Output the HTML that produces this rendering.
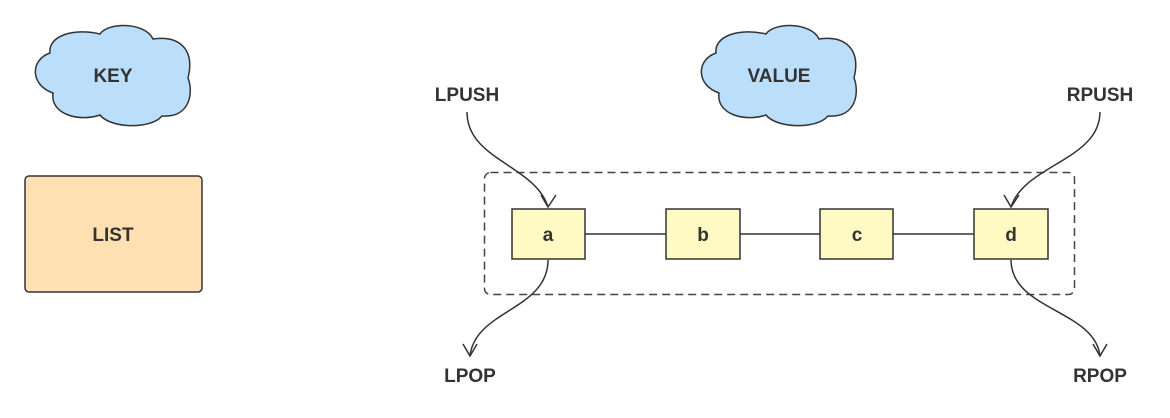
<!DOCTYPE html>
<html><head><style>body{margin:0;background:#fff}</style></head><body>
<svg width="1170" height="413" viewBox="0 0 1170 413" xmlns="http://www.w3.org/2000/svg" font-family="Liberation Sans, sans-serif" font-weight="bold" fill="#333">
<g stroke="#333" stroke-width="1.5">
<path id="cl" d="M50,53 C48,35 75,28 100,34 C108,22 145,22 153,39 C180,35 195,50 188,78 C193,90 192,118 162,116 C150,130 110,128 100,115 C80,122 50,115 53,93 C30,85 30,60 50,53 Z" fill="#bbdefb"/>
<path transform="translate(666,0)" d="M50,53 C48,35 75,28 100,34 C108,22 145,22 153,39 C180,35 195,50 188,78 C193,90 192,118 162,116 C150,130 110,128 100,115 C80,122 50,115 53,93 C30,85 30,60 50,53 Z" fill="#bbdefb"/>
<rect x="25" y="176" width="177" height="116" rx="4" fill="#ffe0b2"/>
<rect x="484.5" y="172.5" width="590" height="122" rx="6" fill="none" stroke="#444" stroke-dasharray="8,5"/>
<line x1="585" y1="234" x2="974" y2="234"/>
<rect x="512" y="209" width="73" height="50" fill="#fff9c4"/>
<rect x="666" y="209" width="74" height="50" fill="#fff9c4"/>
<rect x="820" y="209" width="73" height="50" fill="#fff9c4"/>
<rect x="974" y="209" width="74" height="50" fill="#fff9c4"/>
<g fill="none">
<path d="M467,112 C467,160 535,165 548,207"/><path d="M541,195 L548,207 L556,195"/>
<path d="M1100,112 C1100,160 1024,165 1011,207"/><path d="M1004,195 L1011,207 L1019,195"/>
<path d="M548,260 C548,310 475,310 470,356"/><path d="M463,344 L470,356 L477,344"/>
<path d="M1011,260 C1011,310 1095,310 1100,356"/><path d="M1093,344 L1100,356 L1107,344"/>
</g>
</g>
<g font-size="19" text-anchor="middle">
<text x="113" y="82">KEY</text>
<text x="779" y="82">VALUE</text>
<text x="113" y="241">LIST</text>
<text x="467" y="101">LPUSH</text>
<text x="1100" y="101">RPUSH</text>
<text x="470" y="382">LPOP</text>
<text x="1100" y="382">RPOP</text>
<text x="548" y="241">a</text>
<text x="703" y="241">b</text>
<text x="857" y="241">c</text>
<text x="1011" y="241">d</text>
</g>
</svg>
</body></html>
